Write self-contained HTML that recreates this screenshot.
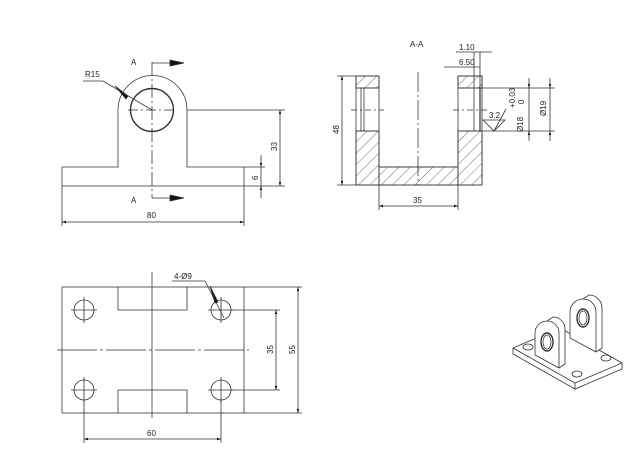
<!DOCTYPE html>
<html><head><meta charset="utf-8"><style>
html,body{margin:0;padding:0;background:#fff;}
svg{display:block;}
text{font-family:"Liberation Sans",sans-serif;font-size:8px;fill:#222;}
</style></head><body>
<svg width="640" height="452" viewBox="0 0 640 452" xmlns="http://www.w3.org/2000/svg">
<defs>
<pattern id="h" patternUnits="userSpaceOnUse" width="8" height="8" patternTransform="rotate(45)">
<line x1="0" y1="0" x2="0" y2="8" stroke="#333" stroke-width="0.7"/>
</pattern>
<marker id="a" viewBox="0 0 10 10" refX="10" refY="5" markerWidth="7" markerHeight="5" orient="auto-start-reverse"><path d="M0,2 L10,5 L0,8z" fill="#111"/></marker>
</defs>
<g stroke="#333" stroke-width="0.8" fill="none">
<!-- FRONT VIEW -->
<path d="M62,167 H118 V110 A34.5,34.5 0 0 1 187,110 V167 H244 V186 H62 Z"/>
<circle cx="152" cy="110" r="21.5" stroke-width="1.4"/>
<line x1="152" y1="62" x2="152" y2="198" stroke-dasharray="14,3,2,3"/>
<line x1="128" y1="110" x2="176" y2="110" stroke-dasharray="10,3,2,3"/>
<line x1="152" y1="63" x2="180" y2="63"/>
<path d="M170,60 L184,63 L170,66z" fill="#111"/>
<line x1="152" y1="198" x2="180" y2="198"/>
<path d="M170,195 L184,198 L170,201z" fill="#111"/>
<line x1="83" y1="81" x2="103" y2="81"/>
<line x1="103" y1="81" x2="152" y2="110"/>
<path d="M115,86 L128,96 L126,99z" fill="#111"/>
<line x1="187" y1="110" x2="285" y2="110"/>
<line x1="244" y1="186" x2="285" y2="186"/>
<line x1="244" y1="167" x2="265" y2="167"/>
<line x1="280" y1="110" x2="280" y2="186" marker-start="url(#a)" marker-end="url(#a)"/>
<line x1="261" y1="155" x2="261" y2="167" marker-end="url(#a)"/>
<line x1="261" y1="198" x2="261" y2="186" marker-end="url(#a)"/>
<line x1="261" y1="167" x2="261" y2="186"/>
<line x1="62" y1="186" x2="62" y2="226"/>
<line x1="244" y1="186" x2="244" y2="226"/>
<line x1="62" y1="222" x2="244" y2="222" marker-start="url(#a)" marker-end="url(#a)"/>

<!-- SECTION A-A -->
<rect x="356" y="76" width="23" height="12" fill="url(#h)"/>
<rect x="356" y="131" width="23" height="54" fill="url(#h)"/>
<rect x="379" y="167" width="79" height="18" fill="url(#h)"/>
<rect x="458" y="76" width="24" height="12" fill="url(#h)"/>
<rect x="458" y="131" width="24" height="54" fill="url(#h)"/>
<path d="M356,76 H379 V167 H458 V76 H482 V185 H356 Z"/>
<line x1="356" y1="88" x2="379" y2="88"/><line x1="356" y1="131" x2="379" y2="131"/>
<line x1="458" y1="88" x2="482" y2="88"/><line x1="458" y1="131" x2="482" y2="131"/>
<line x1="361" y1="88" x2="361" y2="131"/><line x1="364" y1="88" x2="364" y2="131"/>
<line x1="474" y1="88" x2="474" y2="131"/><line x1="480" y1="88" x2="480" y2="131" stroke-width="1.2"/>
<line x1="418" y1="72" x2="418" y2="185" stroke-dasharray="20,3,2,3"/>
<line x1="351" y1="110" x2="384" y2="110" stroke-dasharray="6,3,2,3"/>
<line x1="453" y1="110" x2="487" y2="110" stroke-dasharray="6,3,2,3"/>
<line x1="337" y1="76" x2="356" y2="76"/><line x1="337" y1="185" x2="356" y2="185"/>
<line x1="342" y1="76" x2="342" y2="185" marker-start="url(#a)" marker-end="url(#a)"/>
<line x1="379" y1="185" x2="379" y2="210"/><line x1="458" y1="185" x2="458" y2="210"/>
<line x1="379" y1="206" x2="458" y2="206" marker-start="url(#a)" marker-end="url(#a)"/>
<line x1="480" y1="88" x2="555" y2="88"/><line x1="480" y1="131" x2="555" y2="131"/>
<line x1="529" y1="78" x2="529" y2="88" marker-end="url(#a)"/><line x1="529" y1="141" x2="529" y2="131" marker-end="url(#a)"/>
<line x1="529" y1="88" x2="529" y2="131"/>
<line x1="550" y1="78" x2="550" y2="88" marker-end="url(#a)"/><line x1="550" y1="141" x2="550" y2="131" marker-end="url(#a)"/>
<line x1="550" y1="88" x2="550" y2="131"/>
<line x1="474" y1="52" x2="474" y2="88"/><line x1="480" y1="52" x2="480" y2="88"/>
<line x1="456" y1="52" x2="492" y2="52"/>
<line x1="444" y1="67" x2="480" y2="67"/>
<path d="M483,120 H505 L494,131 Z M494,131 L506,109"/>

<!-- TOP VIEW -->
<rect x="62" y="287" width="182" height="126"/>
<path d="M118,287 V310 H187 V287 M118,413 V390 H187 V413"/>
<line x1="57" y1="350" x2="249" y2="350" stroke-dasharray="40,3,3,3"/>
<line x1="152" y1="272" x2="152" y2="418"/>
<g>
<circle cx="84" cy="310" r="10"/><circle cx="221" cy="310" r="10"/>
<circle cx="84" cy="390" r="10"/><circle cx="221" cy="390" r="10"/>
<path d="M71,310 H97 M84,297 V323 M208,310 H234 M221,297 V323 M71,390 H97 M84,377 V403 M208,390 H234 M221,377 V403"/>
</g>
<line x1="172" y1="281" x2="205" y2="281"/>
<line x1="205" y1="281" x2="224" y2="318"/>
<path d="M210,286 L218,302 L215,303z" fill="#111"/>
<line x1="232" y1="310" x2="280" y2="310"/><line x1="232" y1="390" x2="280" y2="390"/>
<line x1="276" y1="310" x2="276" y2="390" marker-start="url(#a)" marker-end="url(#a)"/>
<line x1="244" y1="287" x2="302" y2="287"/><line x1="244" y1="413" x2="302" y2="413"/>
<line x1="298" y1="287" x2="298" y2="413" marker-start="url(#a)" marker-end="url(#a)"/>
<line x1="84" y1="400" x2="84" y2="443"/><line x1="221" y1="400" x2="221" y2="443"/>
<line x1="84" y1="439" x2="221" y2="439" marker-start="url(#a)" marker-end="url(#a)"/>

<!-- ISO -->
<path d="M513,348 L560,328 L622,363 L575,383 Z" fill="#fff"/>
<path d="M513,348 V354 L575,389 L622,369 V363 M575,383 V389"/>
<ellipse cx="528" cy="347" rx="5" ry="3"/><ellipse cx="606" cy="358" rx="5" ry="3"/><ellipse cx="577" cy="374" rx="5" ry="3"/>
<!-- right upright -->
<path d="M570,338 V312 A13,13 0 0 1 583,299 L589,295 A13,13 0 0 1 602,308 V348 L596,352 L570,338 Z" fill="#fff"/>
<path d="M583,299 A13,13 0 0 1 596,312 V352 M589,295"/>
<ellipse cx="583" cy="318" rx="6" ry="9" stroke-width="1.4"/>
<ellipse cx="583" cy="318" rx="4" ry="7"/>
<!-- left upright -->
<path d="M535,355 V333 A12,12 0 0 1 547,321 L553,317 A12,12 0 0 1 565,329 V364 L559,368 L535,355 Z" fill="#fff"/>
<path d="M547,321 A12,12 0 0 1 559,333 V368"/>
<ellipse cx="547" cy="342" rx="6" ry="9" stroke-width="1.4"/>
<ellipse cx="547" cy="342" rx="4" ry="7"/>
</g>
<g>
<text x="131" y="65">A</text>
<text x="131" y="203">A</text>
<text x="85" y="77">R15</text>
<text x="147" y="218">80</text>
<text transform="translate(277,151) rotate(-90)">33</text>
<text transform="translate(258,180) rotate(-90)">6</text>
<text x="410" y="47">A-A</text>
<text x="459" y="50">1.10</text>
<text x="459" y="65">6.50</text>
<text transform="translate(339,134) rotate(-90)">48</text>
<text x="413" y="203">35</text>
<text x="489" y="118">3.2</text>
<text transform="translate(523,132) rotate(-90)">Ø18</text>
<text transform="translate(515,108) rotate(-90)">+0.03</text>
<text transform="translate(524,104) rotate(-90)">0</text>
<text transform="translate(546,116) rotate(-90)">Ø19</text>
<text x="174" y="279">4-Ø9</text>
<text transform="translate(273,354) rotate(-90)">35</text>
<text transform="translate(295,354) rotate(-90)">55</text>
<text x="147" y="436">60</text>
</g>
</svg>
</body></html>
